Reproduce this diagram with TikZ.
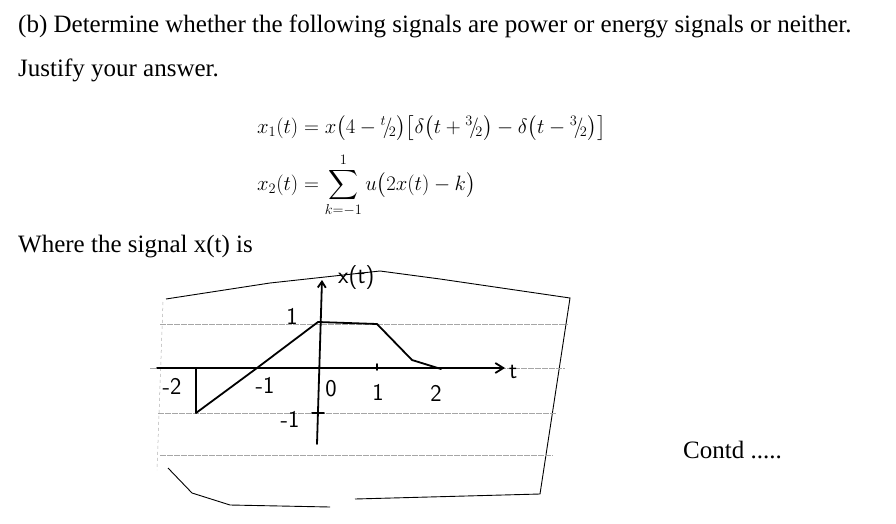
\documentclass[tikz,border=0pt]{standalone}
\usepackage{fontspec}
\setmainfont{Liberation Serif}
\usepackage{amsmath}
\usetikzlibrary{arrows.meta}
\begin{document}
\begin{tikzpicture}[x=1pt,y=-1pt,
  txt/.style={anchor=base west,inner sep=0pt,font=\fontsize{25}{30}\selectfont},
  mtxt/.style={anchor=base west,inner sep=0pt,font=\fontsize{22}{26}\selectfont},
  hand/.style={line width=1.8pt,line join=round,line cap=round},
  rule/.style={gray!70,line width=0.6pt,dash pattern=on 6pt off 1pt},
  lbl/.style={font=\sffamily\fontsize{24}{28}\selectfont,inner sep=0pt}]
\useasboundingbox[fill=white] (0,0) rectangle (896,524);
\node[txt] (l1) at (18,33) {(b) Determine whether the following signals are power or energy signals or neither.};
\node[txt] (l2) at (18,77) {Justify your answer.};
\node[mtxt] (e1) at (257,133) {$x_1(t)=x\bigl(4-{}^t\!/\!_2\bigr)\bigl[\delta\bigl(t+{}^3\!/\!_2\bigr)-\delta\bigl(t-{}^3\!/\!_2\bigr)\bigr]$};
\node[mtxt] (e2) at (257,190) {$x_2(t)=\displaystyle\sum_{k=-1}^{1}u\bigl(2x(t)-k\bigr)$};
\node[txt] (l3) at (18,252) {Where the signal x(t) is};
\node[txt] (l4) at (683,458) {Contd .....};
% paper
\draw[line width=0.9pt] (166,299)--(270,283)--(380,271)--(440,279)--(570,298)--(540,494)--(355,499);
\draw[line width=0.9pt] (330,507)--(230,505)--(192,493)--(168,468);
\draw[gray!60,line width=0.5pt,dashed] (163,302)--(157,470);
\foreach \yy/\a/\b in {324/160/568,368/150/565,413/158/557,455/160/553}
  \draw[rule] (\a,\yy)--(\b,\yy);
% axes
\coordinate (ybot) at (317,444); \coordinate (ytop) at (322,280);
\coordinate (xl) at (157,368); \coordinate (xr) at (505,368);
\draw[hand,-{Straight Barb[length=6pt,width=8pt]}] (ybot)--(ytop);
\draw[hand,-{Straight Barb[length=8pt,width=10pt]}] (xl)--(xr);
\node[lbl,anchor=west] (xt) at (338,278) {x(t)};
\node[lbl,anchor=west] (tt) at (509,372) {t};
\draw[hand] (312,413)--(324,413);
\draw[hand] (377,364)--(377,370);
% signal
\draw[hand] (196,368)--(196,413)--(257,368)--(318,322)--(377,324)--(412,360)--(441,369);
\node[lbl] (n1) at (292,316) {1};
\node[lbl] (m2) at (172,386) {-2};
\node[lbl] (m1) at (265,385) {-1};
\node[lbl] (z0) at (331,389) {0};
\node[lbl] (p1) at (378,392) {1};
\node[lbl] (p2) at (436,393) {2};
\node[lbl] (mm1) at (290,419) {-1};
\end{tikzpicture}
\end{document}
